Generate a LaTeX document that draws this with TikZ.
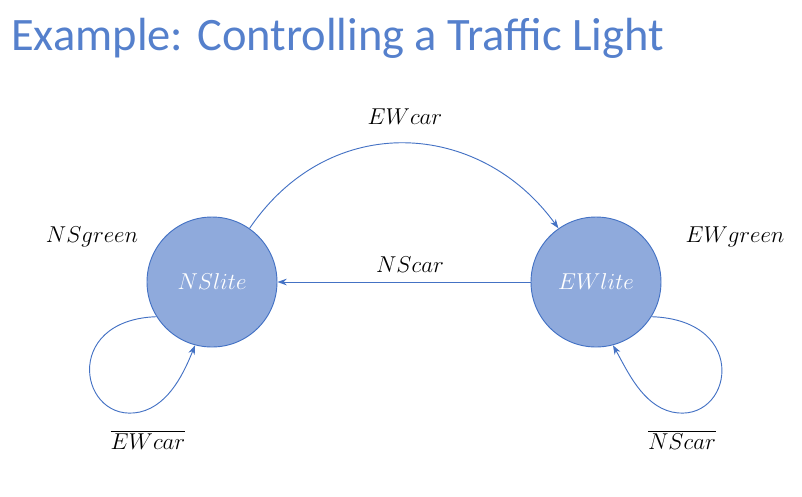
\documentclass[tikz,border=0pt]{standalone}
\usepackage{fontspec}
\setmainfont{Carlito}
\usetikzlibrary{arrows.meta}
\definecolor{blu}{HTML}{4472C4}
\definecolor{ttl}{HTML}{5580CC}
\definecolor{fil}{HTML}{8FAADC}
\begin{document}
\begin{tikzpicture}[x=0.02646cm,y=-0.02646cm,
  st/.style={circle,draw=blu,fill=fil,line width=0.7pt,minimum size=130*0.02646cm,inner sep=0pt,text=white,font=\fontsize{17}{20}\selectfont},
  lb/.style={font=\fontsize{17}{20}\selectfont},
  ar/.style={draw=blu,line width=0.7pt,-{Stealth[length=7pt,width=5pt]}}]
\useasboundingbox (0,0) rectangle (802,496);
\node[anchor=base west,text=ttl,font=\fontsize{35}{40}\selectfont,inner sep=0pt] (t) at (11,50) {Example: Controlling a Traffic Light};
\node[st] (ns) at (212,282) {$NSlite$};
\node[st] (ew) at (596,282) {$EWlite$};
\node[lb] (l1) at (92,237) {$NSgreen$};
\node[lb] (l2) at (735,237) {$EWgreen$};
\node[lb] (l3) at (405,117) {$EWcar$};
\node[lb] (l4) at (410,265) {$NScar$};
\node[lb] (l5) at (148,440) {$\overline{EWcar}$};
\node[lb] (l6) at (682,440) {$\overline{NScar}$};
\draw[ar] (ns.55) .. controls (330,110) and (480,120) .. (ew.125);
\draw[ar] (ew.180) -- (ns.0);
\draw[ar] (ns.212) .. controls (60,320) and (80,425) .. (140,412) .. controls (170,405) and (185,370) .. (ns.255);
\draw[ar] (ew.328) .. controls (752,320) and (732,425) .. (672,412) .. controls (642,405) and (627,370) .. (ew.285);
\end{tikzpicture}
\end{document}
